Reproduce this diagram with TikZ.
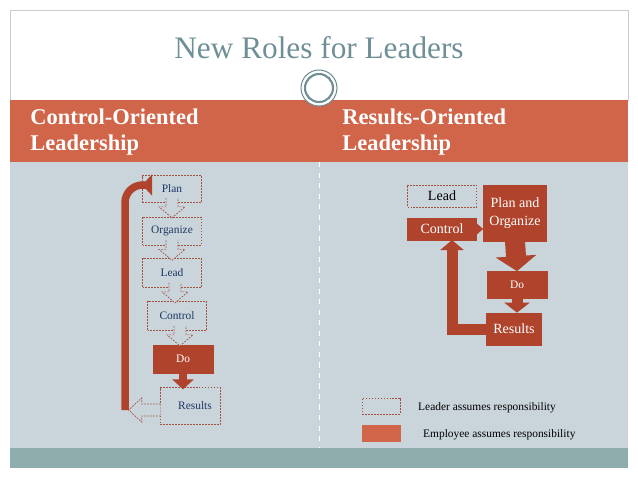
\documentclass[tikz,border=0pt]{standalone}
\usepackage{fontspec}
\setmainfont{Liberation Serif}
\usetikzlibrary{calc,arrows.meta}
\definecolor{band}{HTML}{D0654A}
\definecolor{brick}{HTML}{B0432B}
\definecolor{panel}{HTML}{C9D4DB}
\definecolor{titlec}{HTML}{6F8F97}
\definecolor{navy}{HTML}{1F3864}
\definecolor{barc}{HTML}{8FADAD}
% hollow dashed block arrows
\newcommand\hollowdown[1]{\draw[hollowline] #1 ++(-6,-5) -- ++(0,9) -- ++(-7,0) -- ++(13,11) -- ++(13,-11) -- ++(-7,0) -- ++(0,-9);}
\newcommand\hollowleft[1]{\draw[hollowline] #1 ++(1,-6) -- ++(-19,0) -- ++(0,-6) -- ++(-13,12) -- ++(13,12) -- ++(0,-6) -- ++(19,0);}
\begin{document}
\begin{tikzpicture}
    [
    x=0.02cm, y=-0.02cm,
    leader/.style={draw=brick!75!gray, dash pattern=on 1pt off 0.7pt, fill=panel, inner sep=0pt, text=navy, font=\fontsize{6.5}{7}\selectfont},
    worker/.style={draw=brick, fill=brick, inner sep=0pt, text=white, font=\fontsize{6.5}{7}\selectfont},
    hollowline/.style={draw=brick!75!gray, dash pattern=on 1pt off 0.7pt, fill=panel},
    flow/.style={draw=brick, line width=0.15cm, -{Triangle[width=0.42cm,length=0.2cm]}}
    ]
    % background
    \fill[white] (0,0) rectangle (638,478);
    \draw[gray!40] (10,10) rectangle (628,100);
    \fill[band] (10,100) rectangle (628,162);
    \fill[panel] (10,162) rectangle (628,448);
    \fill[barc] (10,448) rectangle (628,468);
    \draw[white, dashed] (319,162) -- (319,448);
    \node (title) at (319,48) [text=titlec, font=\fontsize{17.8}{20}\selectfont] {New Roles for Leaders};
    \node (ring) at (319,88) [circle, draw=titlec, fill=white, line width=0.6pt, minimum size=0.72cm] {};
    \node at (ring) [circle, draw=titlec, line width=1.2pt, minimum size=0.56cm] {};
    \node (lhead) at (30,132) [anchor=west, inner sep=0pt, align=left, text=white, font=\bfseries\fontsize{12.8}{14.5}\selectfont] {Control-Oriented\\Leadership};
    \node (rhead) at (342,132) [anchor=west, inner sep=0pt, align=left, text=white, font=\bfseries\fontsize{12.8}{14.5}\selectfont] {Results-Oriented\\Leadership};
    % control-oriented side
    \node (plan) at (172,189) [leader, minimum width=1.18cm, minimum height=0.54cm] {Plan};
    \node (org) at (172,231) [leader, minimum width=1.18cm, minimum height=0.56cm] {Organize};
    \node (lead) at (172,273) [leader, minimum width=1.18cm, minimum height=0.58cm] {Lead};
    \node (ctrl) at (177,316) [leader, minimum width=1.18cm, minimum height=0.58cm] {Control};
    \node (do) at (183,359) [worker, minimum width=1.2cm, minimum height=0.56cm] {Do};
    \node (res) at (190,406) [leader, minimum width=1.2cm, minimum height=0.74cm] {\hspace*{0.2cm}Results};
    \hollowdown{(plan.south)}
    \hollowdown{(org.south)}
    \hollowdown{($(lead.south)+(3,0)$)}
    \hollowdown{($(ctrl.south)+(3,0)$)}
    \draw[flow] (do.south) -- ++(0,16);
    \hollowleft{(res.west |- 0,410)}
    \coordinate (turn) at (125,410);
    \draw[flow, rounded corners=10pt] (turn) -- (125,185) -- (plan.west |- 0,185);
    % results-oriented side
    \node (rlead) at (442,196) [leader, minimum width=1.38cm, minimum height=0.44cm, text=black, font=\fontsize{8}{9}\selectfont] {Lead};
    \node (rplan) at (515,213) [worker, minimum width=1.26cm, minimum height=1.12cm, align=center, font=\fontsize{8}{10}\selectfont] {Plan and\\Organize};
    \node (rctrl) at (442,229) [worker, minimum width=1.38cm, minimum height=0.44cm, font=\fontsize{8}{9}\selectfont] {Control};
    \node (rdo) at (517,285) [worker, minimum width=1.2cm, minimum height=0.54cm, font=\fontsize{6.5}{7}\selectfont] {Do};
    \node (rres) at (514,329) [worker, minimum width=1.1cm, minimum height=0.64cm, font=\fontsize{8}{9}\selectfont] {Results};
    \draw[flow, line width=0.08cm, -{Triangle[width=0.2cm,length=0.12cm]}] (rctrl.east) -- (rplan.west |- rctrl.east);
    \draw[flow, line width=0.4cm, -{Triangle[width=0.8cm,length=0.3cm]}] (rplan.south) -- (rdo.north);
    \draw[flow, line width=0.22cm, -{Triangle[width=0.5cm,length=0.2cm]}] (rdo.south) -- (rres.north -| rdo.south);
    \draw[flow, line width=0.22cm, -{Triangle[width=0.46cm,length=0.2cm]}] (rres.west) -- (452,329) -- (452,240);
    % legend
    \node (kl) at (381,406) [leader, minimum width=0.76cm, minimum height=0.32cm] {};
    \node (ke) at (381,433) [worker, fill=band, draw=band, minimum width=0.76cm, minimum height=0.32cm] {};
    \node at (412,408) [anchor=west, font=\fontsize{6.5}{7}\selectfont] {Leader assumes responsibility};
    \node at (417,435) [anchor=west, font=\fontsize{6.5}{7}\selectfont] {Employee assumes responsibility};
\end{tikzpicture}
\end{document}
